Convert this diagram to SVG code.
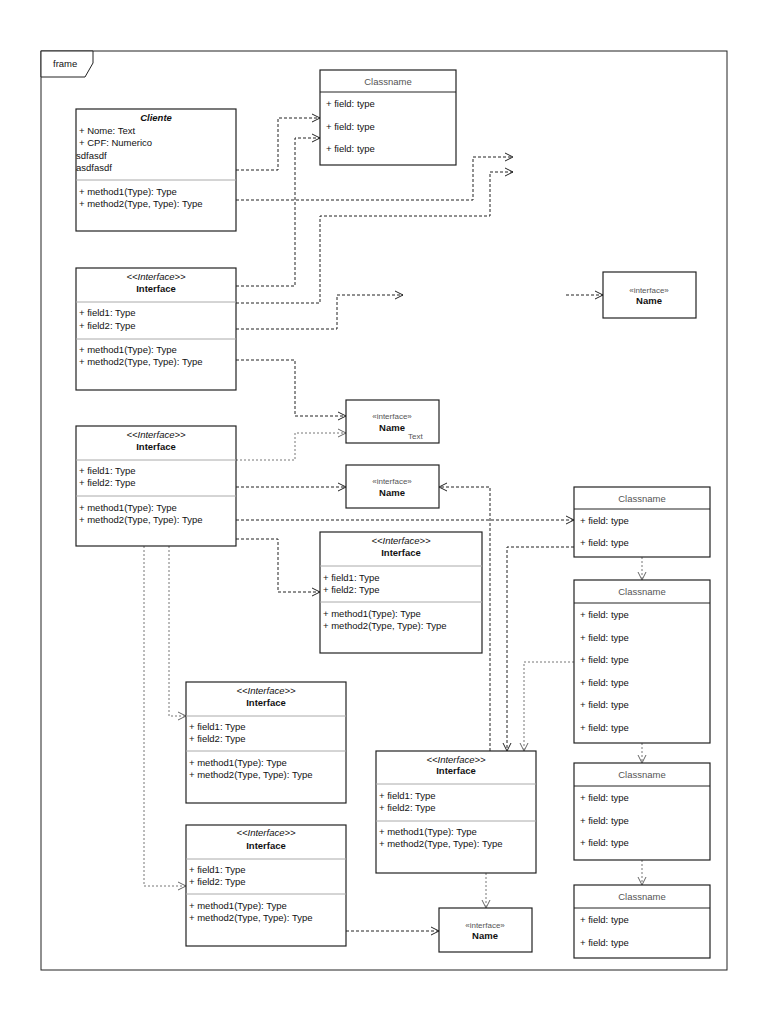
<svg xmlns="http://www.w3.org/2000/svg" width="768" height="1024" viewBox="0 0 768 1024">
<defs>
<marker id="a" markerWidth="10" markerHeight="10" refX="9" refY="5" orient="auto" markerUnits="userSpaceOnUse"><path d="M1,1 L9,5 L1,9" fill="none" stroke="#222" stroke-width="1"/></marker>
<marker id="g" markerWidth="10" markerHeight="10" refX="9" refY="5" orient="auto" markerUnits="userSpaceOnUse"><path d="M1,1 L9,5 L1,9" fill="none" stroke="#666" stroke-width="1"/></marker>
</defs>
<style>
text{font-family:"Liberation Sans",Arial,sans-serif;font-size:9.5px;fill:#111}
.c{text-anchor:middle}.b{font-weight:bold}.i{font-style:italic}.gr{fill:#555}
.box{fill:#fff;stroke:#222;stroke-width:1.2}
.ln{stroke:#222;stroke-width:1;fill:none}
.dv{stroke:#aaa;stroke-width:1}
.e{fill:none;stroke:#222;stroke-width:1;stroke-dasharray:3,2;marker-end:url(#a)}
.eg{fill:none;stroke:#777;stroke-width:1;stroke-dasharray:2,2;marker-end:url(#g)}
</style>
<rect width="768" height="1024" fill="#fff"/>
<g id="frame">
<rect x="41" y="51" width="686" height="919" fill="none" stroke="#222"/>
<path d="M41,51 H93 V63 L85,77 H41 Z" fill="#fff" stroke="#222"/>
<text x="53" y="67">frame</text>
</g>
<g id="connectors">
<path class="e" d="M236,170 H278 V118 H320"/>
<path class="e" d="M236,286 H295 V138 H320"/>
<path class="e" d="M236,200 H473 V157 H513"/>
<path class="e" d="M236,303 H320 V216 H490 V172 H513"/>
<path class="e" d="M236,329 H337 V295 H403"/>
<path class="e" d="M566,295 H603"/>
<path class="e" d="M236,360 H295 V416 H346"/>
<path class="eg" d="M236,460 H295 V433 H346"/>
<path class="e" d="M236,487 H346"/>
<path class="e" d="M490,751 V487 H439"/>
<path class="e" d="M236,520 H574"/>
<path class="e" d="M236,539 H278 V592 H320"/>
<path class="e" d="M574,547 H507 V751"/>
<path class="eg" d="M574,662 H524 V751"/>
<path class="eg" d="M144,546 V886 H186"/>
<path class="eg" d="M169,546 V716 H186"/>
<path class="e" d="M346,931 H439"/>
<path class="eg" d="M486,873 V908"/>
<path class="eg" d="M642,557 V580"/>
<path class="eg" d="M642,743 V763"/>
<path class="eg" d="M642,860 V885"/>
</g>
<g id="classname1">
<rect class="box" x="320" y="70" width="136" height="95"/><line class="ln" x1="320" y1="92" x2="456" y2="92"/>
<text class="c gr" x="388" y="85">Classname</text>
<text x="326" y="107">+ field: type</text><text x="326" y="130">+ field: type</text><text x="326" y="152">+ field: type</text>
</g>
<g id="cliente">
<rect class="box" x="76" y="109" width="160" height="122"/><line class="dv" x1="76" y1="180" x2="236" y2="180"/>
<text class="c b i" x="156" y="121">Cliente</text>
<text x="79" y="134">+ Nome: Text</text><text x="79" y="146">+ CPF: Numerico</text>
<text x="76" y="159">sdfasdf</text><text x="76" y="171">asdfasdf</text>
<text x="79" y="195">+ method1(Type): Type</text><text x="79" y="207">+ method2(Type, Type): Type</text>
</g>
<g id="interface1">
<rect class="box" x="76" y="268" width="160" height="122"/><line class="dv" x1="76" y1="302" x2="236" y2="302"/><line class="dv" x1="76" y1="339" x2="236" y2="339"/>
<text class="c i" x="156" y="280">&lt;&lt;Interface&gt;&gt;</text><text class="c b" x="156" y="292">Interface</text>
<text x="79" y="316">+ field1: Type</text><text x="79" y="329">+ field2: Type</text>
<text x="79" y="353">+ method1(Type): Type</text><text x="79" y="365">+ method2(Type, Type): Type</text>
</g>
<g id="interface2">
<rect class="box" x="76" y="426" width="160" height="120"/><line class="dv" x1="76" y1="460" x2="236" y2="460"/><line class="dv" x1="76" y1="496" x2="236" y2="496"/>
<text class="c i" x="156" y="438">&lt;&lt;Interface&gt;&gt;</text><text class="c b" x="156" y="450">Interface</text>
<text x="79" y="474">+ field1: Type</text><text x="79" y="486">+ field2: Type</text>
<text x="79" y="511">+ method1(Type): Type</text><text x="79" y="523">+ method2(Type, Type): Type</text>
</g>
<g id="name1">
<rect class="box" x="346" y="400" width="93" height="43"/>
<text class="c gr" x="392" y="419" style="font-size:8px">«interface»</text><text class="c b" x="392" y="431">Name</text>
<text class="gr" x="408" y="439" style="font-size:8px">Text</text>
</g>
<g id="name2">
<rect class="box" x="346" y="465" width="93" height="43"/>
<text class="c gr" x="392" y="484" style="font-size:8px">«interface»</text><text class="c b" x="392" y="496">Name</text>
</g>
<g id="name3">
<rect class="box" x="603" y="272" width="93" height="46"/>
<text class="c gr" x="649" y="293" style="font-size:8px">«interface»</text><text class="c b" x="649" y="304">Name</text>
</g>
<g id="interface3">
<rect class="box" x="320" y="532" width="162" height="121"/><line class="dv" x1="320" y1="566" x2="482" y2="566"/><line class="dv" x1="320" y1="602" x2="482" y2="602"/>
<text class="c i" x="401" y="544">&lt;&lt;Interface&gt;&gt;</text><text class="c b" x="401" y="556">Interface</text>
<text x="323" y="581">+ field1: Type</text><text x="323" y="593">+ field2: Type</text>
<text x="323" y="617">+ method1(Type): Type</text><text x="323" y="629">+ method2(Type, Type): Type</text>
</g>
<g id="interface4">
<rect class="box" x="186" y="682" width="160" height="121"/><line class="dv" x1="186" y1="716" x2="346" y2="716"/><line class="dv" x1="186" y1="751" x2="346" y2="751"/>
<text class="c i" x="266" y="694">&lt;&lt;Interface&gt;&gt;</text><text class="c b" x="266" y="706">Interface</text>
<text x="189" y="730">+ field1: Type</text><text x="189" y="742">+ field2: Type</text>
<text x="189" y="766">+ method1(Type): Type</text><text x="189" y="778">+ method2(Type, Type): Type</text>
</g>
<g id="interface5">
<rect class="box" x="186" y="825" width="160" height="121"/><line class="dv" x1="186" y1="859" x2="346" y2="859"/><line class="dv" x1="186" y1="894" x2="346" y2="894"/>
<text class="c i" x="266" y="836">&lt;&lt;Interface&gt;&gt;</text><text class="c b" x="266" y="849">Interface</text>
<text x="189" y="873">+ field1: Type</text><text x="189" y="885">+ field2: Type</text>
<text x="189" y="909">+ method1(Type): Type</text><text x="189" y="921">+ method2(Type, Type): Type</text>
</g>
<g id="interface6">
<rect class="box" x="376" y="751" width="160" height="122"/><line class="dv" x1="376" y1="784" x2="536" y2="784"/><line class="dv" x1="376" y1="821" x2="536" y2="821"/>
<text class="c i" x="456" y="763">&lt;&lt;Interface&gt;&gt;</text><text class="c b" x="456" y="774">Interface</text>
<text x="379" y="799">+ field1: Type</text><text x="379" y="811">+ field2: Type</text>
<text x="379" y="835">+ method1(Type): Type</text><text x="379" y="847">+ method2(Type, Type): Type</text>
</g>
<g id="name4">
<rect class="box" x="439" y="908" width="93" height="44"/>
<text class="c gr" x="485" y="928" style="font-size:8px">«interface»</text><text class="c b" x="485" y="939">Name</text>
</g>
<g id="classR1">
<rect class="box" x="574" y="487" width="136" height="70"/><line class="ln" x1="574" y1="509" x2="710" y2="509"/>
<text class="c gr" x="642" y="502">Classname</text>
<text x="580" y="524">+ field: type</text><text x="580" y="546">+ field: type</text>
</g>
<g id="classR2">
<rect class="box" x="574" y="580" width="136" height="163"/><line class="ln" x1="574" y1="603" x2="710" y2="603"/>
<text class="c gr" x="642" y="595">Classname</text>
<text x="580" y="618">+ field: type</text><text x="580" y="641">+ field: type</text><text x="580" y="663">+ field: type</text>
<text x="580" y="686">+ field: type</text><text x="580" y="708">+ field: type</text><text x="580" y="731">+ field: type</text>
</g>
<g id="classR3">
<rect class="box" x="574" y="763" width="136" height="97"/><line class="ln" x1="574" y1="786" x2="710" y2="786"/>
<text class="c gr" x="642" y="778">Classname</text>
<text x="580" y="801">+ field: type</text><text x="580" y="824">+ field: type</text><text x="580" y="846">+ field: type</text>
</g>
<g id="classR4">
<rect class="box" x="574" y="885" width="136" height="73"/><line class="ln" x1="574" y1="908" x2="710" y2="908"/>
<text class="c gr" x="642" y="900">Classname</text>
<text x="580" y="923">+ field: type</text><text x="580" y="946">+ field: type</text>
</g>
</svg>
